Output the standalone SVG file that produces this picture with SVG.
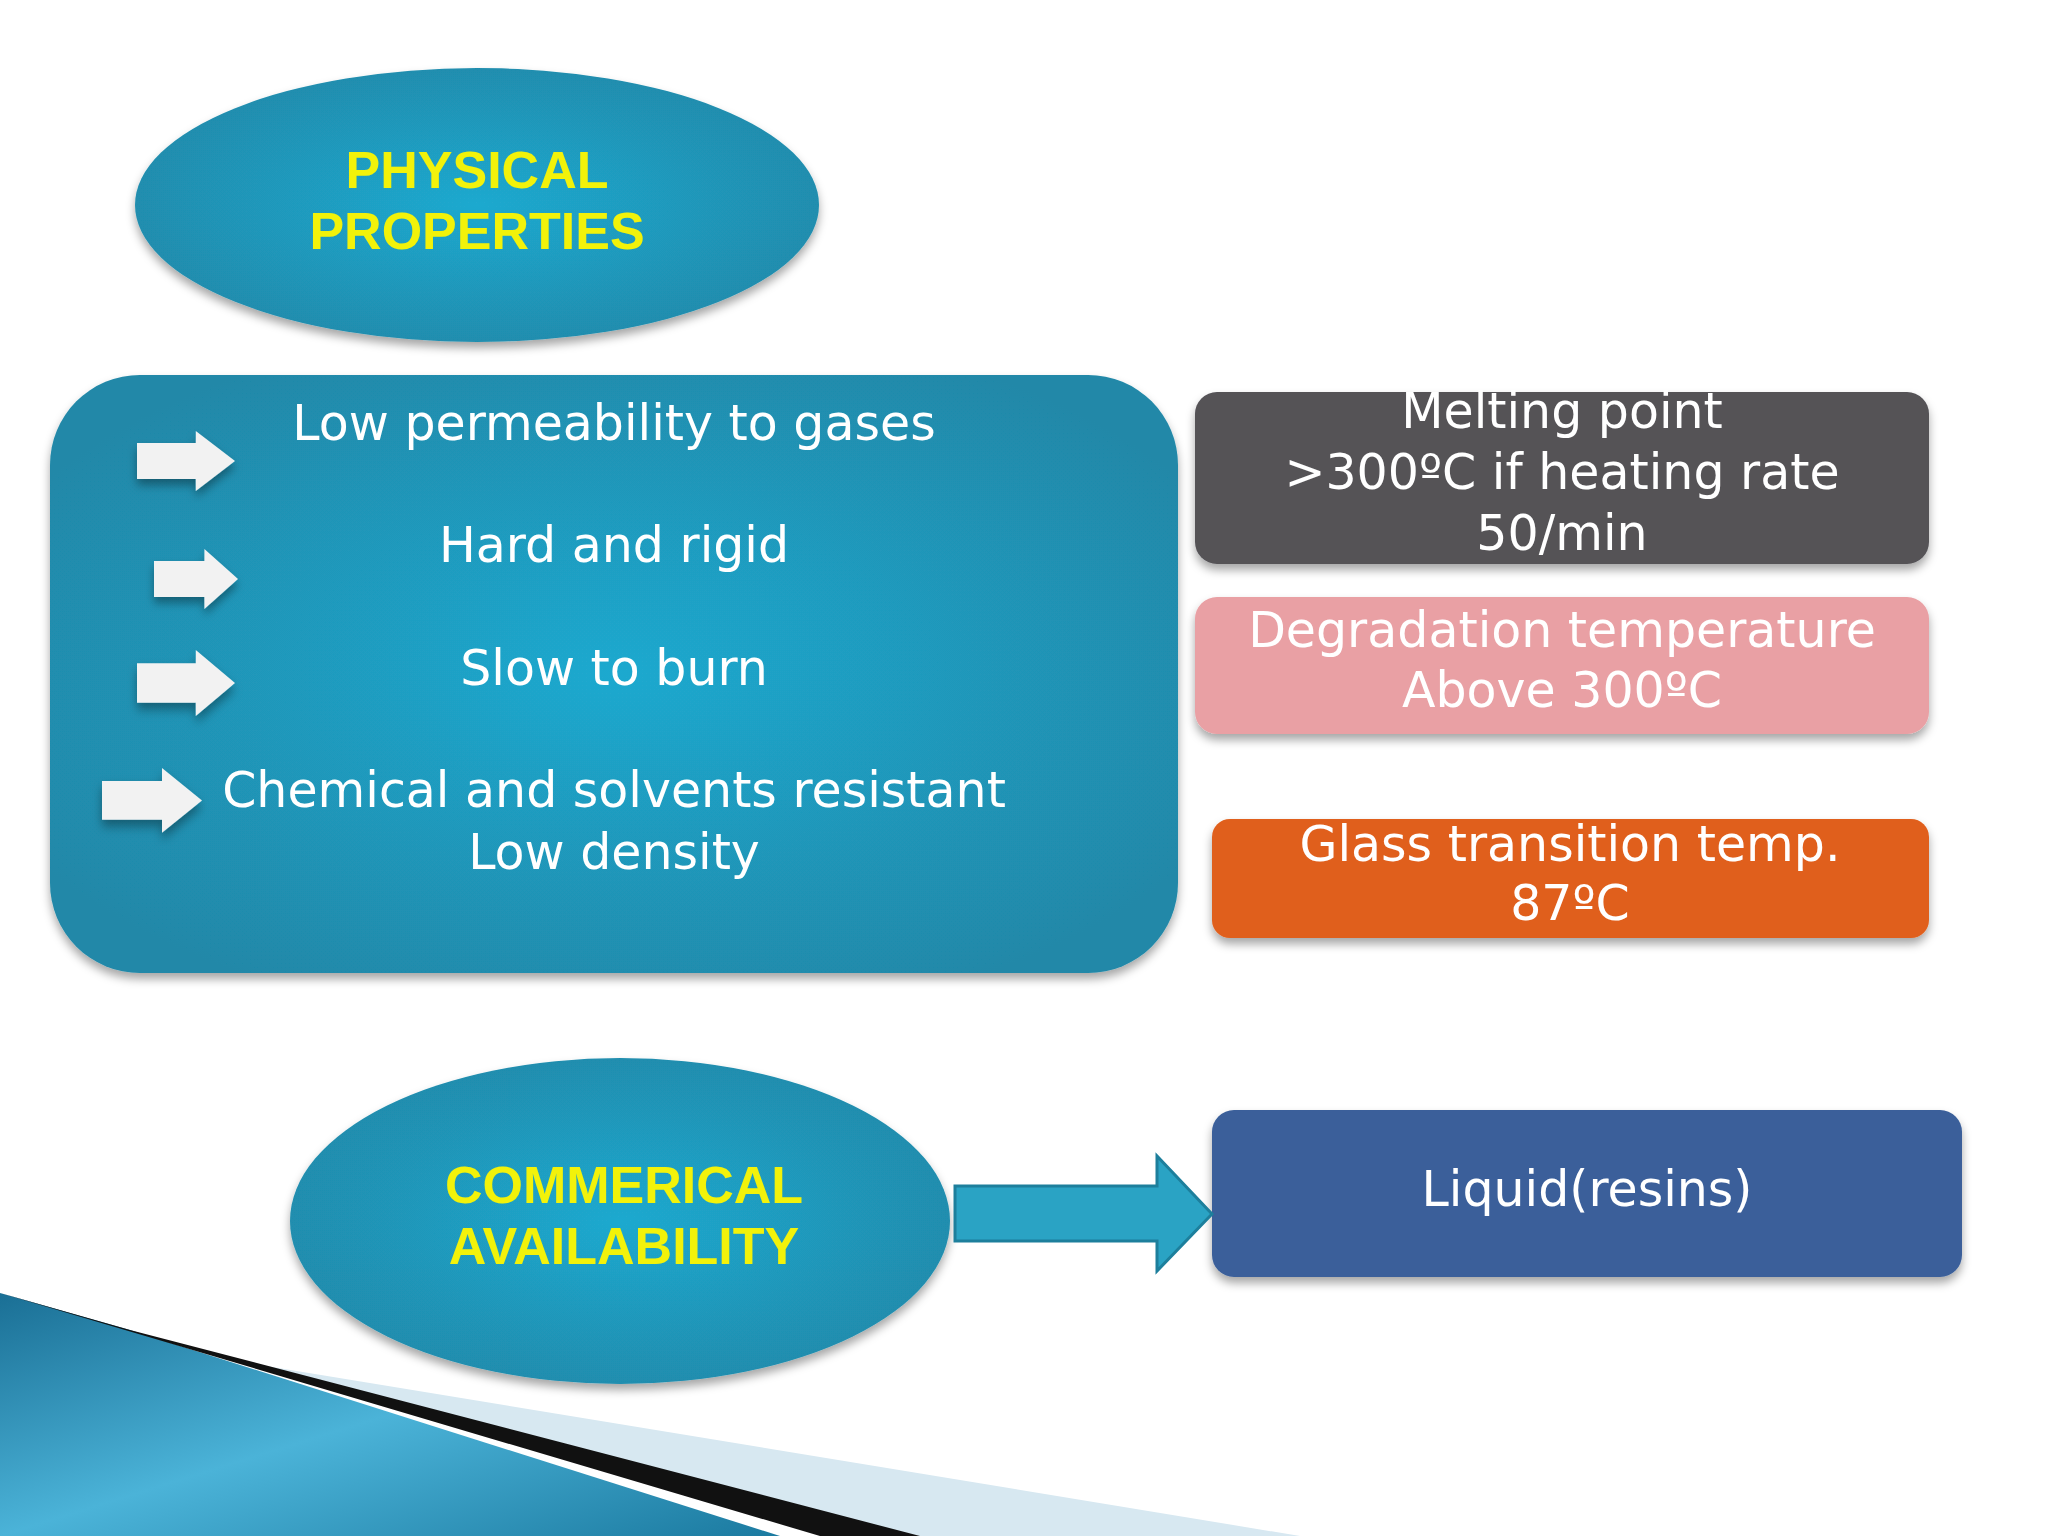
<svg xmlns="http://www.w3.org/2000/svg" width="2048" height="1536" viewBox="0 0 2048 1536">
<defs>
<radialGradient id="teal" cx="50%" cy="50%" r="60%"><stop offset="0" stop-color="#1fa9cf"/><stop offset="1" stop-color="#2088a8"/></radialGradient>
<linearGradient id="deco" x1="0" y1="0" x2="1" y2="1"><stop offset="0" stop-color="#1a6f95"/><stop offset="0.5" stop-color="#4bb3d8"/><stop offset="1" stop-color="#1b7aa0"/></linearGradient>
<filter id="sh" x="-10%" y="-10%" width="120%" height="130%"><feDropShadow dx="0" dy="6" stdDeviation="5" flood-opacity="0.35"/></filter>
<polygon id="wa" points="0,12 60,12 60,0 100,30 60,60 60,48 0,48"/>
</defs>
<style>
.y{font-family:"Liberation Sans",Arial,sans-serif;font-weight:bold;font-size:52px;fill:#f2f20a;text-anchor:middle}
.w{font-family:"DejaVu Sans",Verdana,sans-serif;font-size:49px;fill:#fff;text-anchor:middle}
.arr{fill:#f2f2f2;filter:url(#sh)}
</style>
<rect width="2048" height="1536" fill="#fff"/>
<g id="deco-bg">
<polygon points="0,1293 130,1330 780,1536 0,1536" fill="url(#deco)"/>
<polygon points="230,1360 1300,1536 880,1536" fill="#d7e8f1"/>
<polygon points="0,1293 130,1330 920,1536 820,1536" fill="#111"/>
</g>
<g id="physical"><ellipse cx="477" cy="205" rx="342" ry="137" fill="url(#teal)" filter="url(#sh)"/>
<text class="y" x="477" y="188">PHYSICAL</text><text class="y" x="477" y="249">PROPERTIES</text></g>
<g id="props"><rect x="50" y="375" width="1128" height="598" rx="90" fill="url(#teal)" filter="url(#sh)"/>
<text class="w" x="614" y="440">Low permeability to gases</text>
<text class="w" x="614" y="562">Hard and rigid</text>
<text class="w" x="614" y="685">Slow to burn</text>
<text class="w" x="614" y="807">Chemical and solvents resistant</text>
<text class="w" x="614" y="869">Low density</text>
<use href="#wa" class="arr" transform="translate(137,431) scale(0.98,1)"/>
<use href="#wa" class="arr" transform="translate(154,549) scale(0.84,1)"/>
<use href="#wa" class="arr" transform="translate(137,650) scale(0.98,1.1)"/>
<use href="#wa" class="arr" transform="translate(102,768) scale(1,1.08)"/>
</g>
<g id="melting"><rect x="1195" y="392" width="734" height="172" rx="22" fill="#545257" filter="url(#sh)"/>
<text class="w" x="1562" y="428">Melting point</text><text class="w" x="1562" y="489">&gt;300ºC if heating rate</text><text class="w" x="1562" y="550">50/min</text></g>
<g id="degradation"><rect x="1195" y="597" width="734" height="137" rx="22" fill="#e9a0a4" filter="url(#sh)"/>
<text class="w" x="1562" y="647">Degradation temperature</text><text class="w" x="1562" y="707">Above 300ºC</text></g>
<g id="glass"><rect x="1212" y="819" width="717" height="119" rx="18" fill="#e05f1b" filter="url(#sh)"/>
<text class="w" x="1570" y="861">Glass transition temp.</text><text class="w" x="1570" y="920">87ºC</text></g>
<g id="commercial"><ellipse cx="620" cy="1221" rx="330" ry="163" fill="url(#teal)" filter="url(#sh)"/>
<text class="y" x="624" y="1203">COMMERICAL</text><text class="y" x="624" y="1264">AVAILABILITY</text></g>
<g id="liquid"><rect x="1212" y="1110" width="750" height="167" rx="22" fill="#3a5f9a" filter="url(#sh)"/>
<text class="w" x="1587" y="1206">Liquid(resins)</text></g>
<g id="connectors"><polygon points="955,1186 1157,1186 1157,1156 1212,1214 1157,1271 1157,1241 955,1241" fill="#2aa3c4" stroke="#1d7f9c" stroke-width="3"/></g>
</svg>
